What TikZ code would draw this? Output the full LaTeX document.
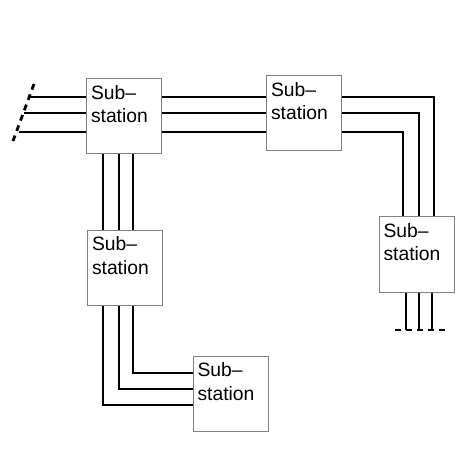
\documentclass[tikz,border=0pt]{standalone}
\usepackage{fontspec}
\setmainfont{Liberation Sans}
\usepackage{tikz}
\usetikzlibrary{positioning,calc}
\newcommand{\subtext}{\parbox[c][75bp][t]{66bp}{\vspace{6.5bp}Sub--\\station}}
\tikzset{
    subst/.style={draw=black!50, line width=1bp, fill=white, inner sep=0pt, minimum size=75bp,
        align=left, font=\fontsize{19.3bp}{23.5bp}\selectfont},
    wire/.style={line width=2.8bp, line cap=butt, line join=miter, black},
    cut/.style={line width=2.8bp, dash pattern=on 6bp off 5bp, black}
}
\begin{document}
\begin{tikzpicture}[x=1bp,y=-1bp]
    \useasboundingbox (0,0) rectangle (474,474);
    % substations
    \node[subst] (sa) at (124,116.5) {\subtext};
    \node[subst] (sb) at (304,113.5) {\subtext};
    \node[subst] (sc) at (416.5,254.5) {\subtext};
    \node[subst] (sd) at (125,268) {\subtext};
    \node[subst] (se) at (230.5,394) {\subtext};
    % free ends of the lines
    \coordinate (la) at (30,97);
    \coordinate (lb) at (24,113);
    \coordinate (lc) at (19,132);
    \coordinate (cuta) at (34,84);
    \coordinate (cutb) at (13,141);
    \coordinate (cutc) at (395,330);
    \coordinate (cutd) at (448,330);
    \draw[cut] (cuta) -- (cutb);
    \draw[cut] (cutc) -- (cutd);
    % top lines, sa to sb to sc
    \foreach \l/\x in {la/434,lb/419,lc/403}{
        \coordinate (t) at (\x,0);
        \draw[wire] (\l) -- (sa.west |- \l);
        \draw[wire] (sa.east |- \l) -- (sb.west |- \l);
        \draw[wire] (sb.east |- \l) -| (sc.north -| t);
    }
    % lines below sc
    \foreach \x in {406,419,432}{
        \coordinate (t) at (\x,0);
        \draw[wire] (sc.south -| t) -- (cutc -| t);
    }
    % sa to sd to se
    \foreach \x/\y in {103/405,119/389,133/373}{
        \coordinate (t) at (\x,\y);
        \draw[wire] (sa.south -| t) -- (sd.north -| t);
        \draw[wire] (sd.south -| t) |- (se.west |- t);
    }
\end{tikzpicture}
\end{document}
